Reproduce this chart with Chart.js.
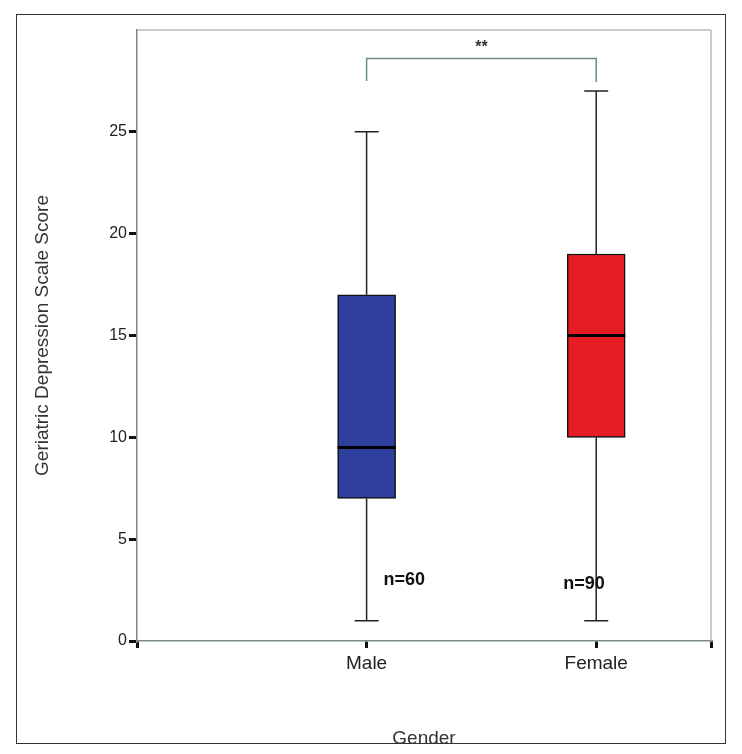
<!DOCTYPE html>
<html><head><meta charset="utf-8">
<script src="https://cdn.jsdelivr.net/npm/chart.js@4"></script>
<style>
body{margin:0;background:#fff;}
#wrap{position:relative;width:742px;height:754px;}
#frame{position:absolute;left:16px;top:14px;width:710px;height:730px;border:1px solid #333;box-sizing:border-box;pointer-events:none;}
</style></head><body>
<div id="wrap"><canvas id="c" width="742" height="754"></canvas><div id="frame"></div></div>
<script>
const categories=['Male','Female'];
const catPos=[1,2];
const minVals=[1,1];
const q1Vals=[7,10];
const medianVals=[9.5,15];
const q3Vals=[17,19];
const maxVals=[25,27];
const nLabels=['n=60','n=90'];
const colors=['#2e3f9e','#e81c24'];
const yTicks=[0,5,10,15,20,25];

const boxPlugin={id:'box',afterDatasetsDraw(chart){
  const ctx=chart.ctx,x=chart.scales.x,y=chart.scales.y;
  ctx.save();
  ctx.strokeStyle='#8a9a9a';ctx.lineWidth=1;
  ctx.beginPath();ctx.moveTo(chart.chartArea.left,chart.chartArea.top);ctx.lineTo(chart.chartArea.right,chart.chartArea.top);ctx.lineTo(chart.chartArea.right,chart.chartArea.bottom);ctx.stroke();
  for(let i=0;i<categories.length;i++){
    const cx=x.getPixelForValue(catPos[i]);
    ctx.strokeStyle='#222';ctx.lineWidth=1.5;
    ctx.beginPath();
    ctx.moveTo(cx,y.getPixelForValue(q3Vals[i]));ctx.lineTo(cx,y.getPixelForValue(maxVals[i]));
    ctx.moveTo(cx,y.getPixelForValue(q1Vals[i]));ctx.lineTo(cx,y.getPixelForValue(minVals[i]));
    ctx.moveTo(cx-12,y.getPixelForValue(maxVals[i]));ctx.lineTo(cx+12,y.getPixelForValue(maxVals[i]));
    ctx.moveTo(cx-12,y.getPixelForValue(minVals[i]));ctx.lineTo(cx+12,y.getPixelForValue(minVals[i]));
    ctx.stroke();
    ctx.lineWidth=3;ctx.strokeStyle='#000';
    ctx.beginPath();ctx.moveTo(cx-29,y.getPixelForValue(medianVals[i]));ctx.lineTo(cx+29,y.getPixelForValue(medianVals[i]));ctx.stroke();
  }
  ctx.fillStyle='#111';ctx.font='bold 18px "Liberation Sans"';ctx.textBaseline='middle';ctx.textAlign='left';
  ctx.fillText(nLabels[0],x.getPixelForValue(catPos[0])+17,y.getPixelForValue(3));
  ctx.fillText(nLabels[1],x.getPixelForValue(catPos[1])-33,y.getPixelForValue(2.8));
  const xa=x.getPixelForValue(catPos[0]),xb=x.getPixelForValue(catPos[1]);
  const yt=y.getPixelForValue(28.6),yl=y.getPixelForValue(27.5);
  ctx.strokeStyle='#6a8a8a';ctx.lineWidth=1.5;
  ctx.beginPath();ctx.moveTo(xa,yl);ctx.lineTo(xa,yt);ctx.lineTo(xb,yt);ctx.lineTo(xb,yl+1);ctx.stroke();
  ctx.fillStyle='#333';ctx.font='bold 16px "Liberation Sans"';ctx.textAlign='center';
  ctx.fillText('**',(xa+xb)/2,y.getPixelForValue(29.3)+3);
  ctx.restore();
}};

new Chart(document.getElementById('c'),{
  type:'bar',
  data:{datasets:[{data:catPos.map((p,i)=>({x:p,y:[q1Vals[i],q3Vals[i]]})),backgroundColor:colors,borderColor:'#111',borderWidth:1.5,borderSkipped:false,barThickness:58}]},
  options:{responsive:false,animation:false,
    layout:{padding:{left:27,right:31,top:30,bottom:0}},
    plugins:{legend:{display:false},tooltip:{enabled:false}},
    scales:{
      x:{type:'linear',min:0,max:2.5,offset:false,
        afterBuildTicks(s){s.ticks=[0,1,2,2.5].map(v=>({value:v}));},
        afterFit(s){s.height=113;},
        ticks:{callback:v=>v===1?categories[0]:(v===2?categories[1]:''),color:'#222',font:{family:'Liberation Sans',size:19},padding:4,maxRotation:0,autoSkip:false},
        grid:{drawOnChartArea:false,offset:false,tickLength:7,tickColor:'#111',lineWidth:3},
        border:{color:'#7a8a8a',width:1.5},
        title:{display:true,text:'Gender',color:'#333',font:{family:'Liberation Sans',size:19},padding:{top:10}}},
      y:{min:0,max:30,
        afterBuildTicks(s){s.ticks=yTicks.map(v=>({value:v}));},
        afterFit(s){s.width=110;},
        ticks:{color:'#222',font:{family:'Liberation Sans',size:16},padding:2},
        grid:{drawOnChartArea:false,tickLength:8,tickColor:'#111',lineWidth:3},
        border:{color:'#7a8a8a',width:1.5},
        title:{display:true,text:'Geriatric Depression Scale Score',color:'#333',font:{family:'Liberation Sans',size:19},padding:{bottom:4}}}
    }},
  plugins:[boxPlugin]
});
</script></body></html>
